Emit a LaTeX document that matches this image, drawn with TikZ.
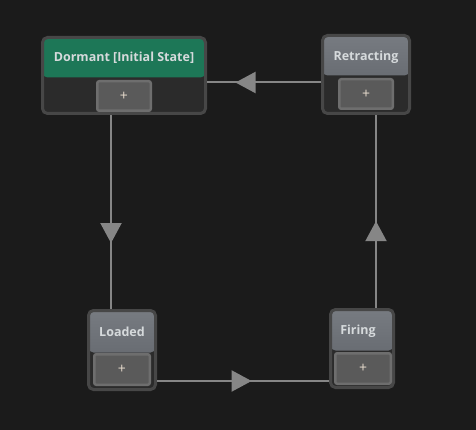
\documentclass[tikz,border=0pt]{standalone}
\usepackage{fontspec}
\setmainfont{Open Sans}
\usetikzlibrary{arrows.meta,decorations.markings,calc}
\definecolor{bg}{HTML}{1B1B1B}
\definecolor{nodeborder}{HTML}{474747}
\definecolor{nodebody}{HTML}{2B2B2B}
\definecolor{hdrtop}{HTML}{777B81}
\definecolor{hdrbot}{HTML}{5C6066}
\definecolor{hdrgreen}{HTML}{1D7757}
\definecolor{btnborder}{HTML}{6E6E6E}
\definecolor{btnfill}{HTML}{5A5A5A}
\definecolor{txt}{HTML}{D6DADC}
\definecolor{plus}{HTML}{E8DCCE}
\definecolor{wire}{HTML}{868686}
\tikzset{
  statebox/.style={draw=nodeborder, line width=3pt, fill=nodebody, rounded corners=5pt, inner sep=0pt},
  grayhdr/.style={path picture={\shade[top color=hdrtop, bottom color=hdrbot] (path picture bounding box.north west) rectangle ([yshift=-#1]path picture bounding box.north east);}},
  greenhdr/.style={path picture={\fill[hdrgreen] (path picture bounding box.north west) rectangle ([yshift=-#1]path picture bounding box.north east);}},
  title/.style={text=txt, font=\bfseries\fontsize{12.5}{14}\selectfont, inner sep=0pt},
  btn/.style={draw=btnborder, line width=2.5pt, fill=btnfill, rounded corners=2pt, inner sep=0pt, text=plus, font=\fontsize{14}{15}\selectfont},
  wireline/.style={draw=wire, line width=2pt},
  tipat/.style={postaction={decorate}, decoration={markings, mark=at position #1 with {\arrow[wire]{Triangle[length=20pt,width=21pt]}}}}
}
\begin{document}
\begin{tikzpicture}[x=1pt,y=-1pt]
\fill[bg] (0,0) rectangle (476,430);
\useasboundingbox (0,0) rectangle (476,430);

% state boxes
\node[statebox, greenhdr=40pt, minimum width=163pt, minimum height=76pt] (dormant) at (124,75.5) {};
\node[title] (dormant-t) at (124,58) {Dormant [Initial State]};
\node[btn, minimum width=53.5pt, minimum height=29.5pt] (dormant-b) at (124,96) {+};

\node[statebox, grayhdr=40pt, minimum width=87pt, minimum height=78pt] (retracting) at (366,74.5) {};
\node[title] (retracting-t) at (366,57) {Retracting};
\node[btn, minimum width=53.5pt, minimum height=29.5pt] (retracting-b) at (366,94) {+};

\node[statebox, grayhdr=42pt, minimum width=67pt, minimum height=79pt] (loaded) at (122,350) {};
\node[title] (loaded-t) at (122,332) {Loaded};
\node[btn, minimum width=55.5pt, minimum height=30.5pt] (loaded-b) at (122,369.5) {+};

\node[statebox, grayhdr=41pt, minimum width=63pt, minimum height=78pt] (firing) at (362,348.5) {};
\node[title] (firing-t) at (358,331) {Firing};
\node[btn, minimum width=55.5pt, minimum height=30.5pt] (firing-b) at (363,368.5) {+};

% helper lines for connector rows/columns
\coordinate (colDL) at (111,0);
\coordinate (rowLF) at (0,381);
\coordinate (colFR) at (376,0);
\coordinate (rowRD) at (0,82.5);

% connectors
\path[wireline, tipat=0.66] (dormant.south -| colDL) -- (loaded.north -| colDL);
\path[wireline, tipat=0.55] (loaded.east |- rowLF) -- (firing.west |- rowLF);
\path[wireline, tipat=0.45] (firing.north -| colFR) -- (retracting.south -| colFR);
\path[wireline, tipat=0.75] (retracting.west |- rowRD) -- (dormant.east |- rowRD);
\end{tikzpicture}
\end{document}
